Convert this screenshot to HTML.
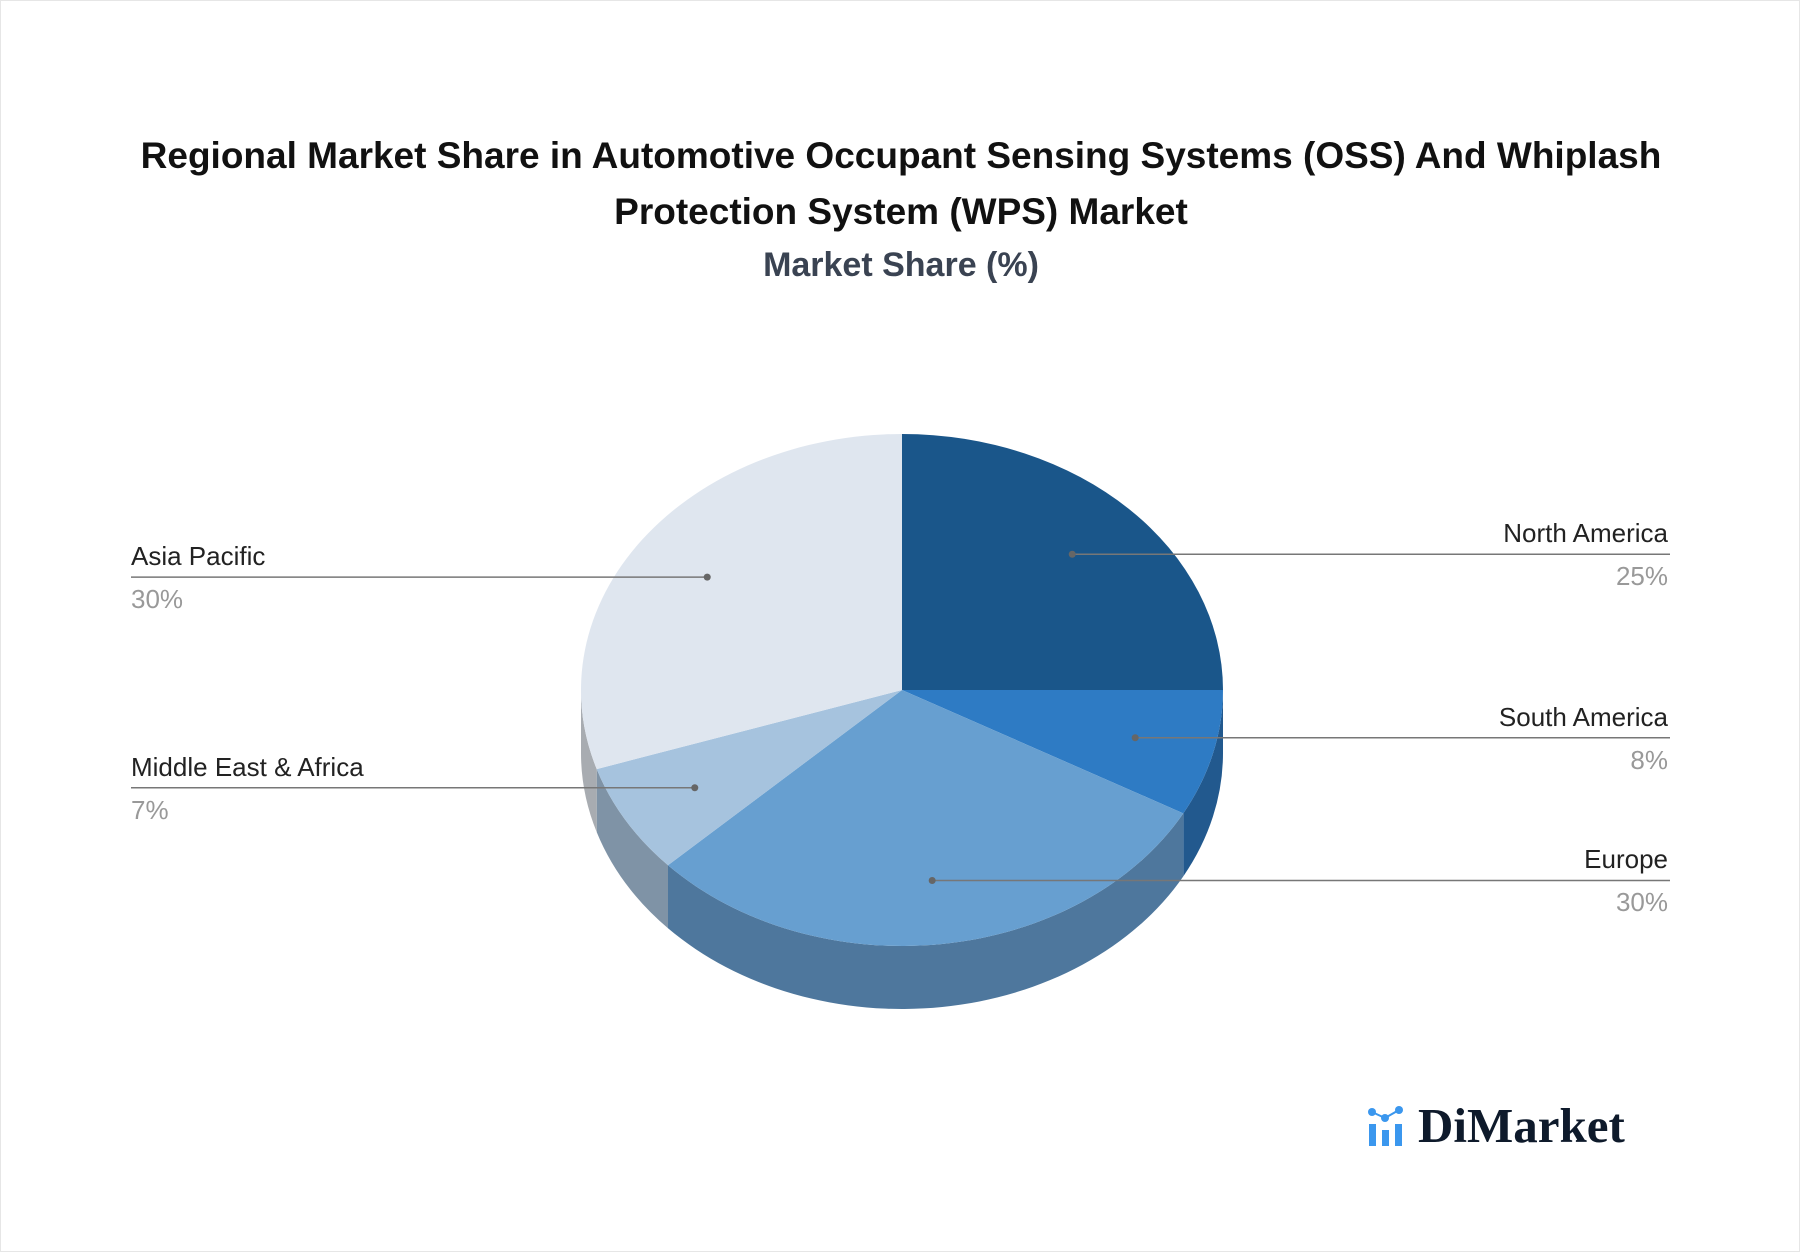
<!DOCTYPE html>
<html><head><meta charset="utf-8"><style>
html,body{margin:0;padding:0;background:#fff}
#wrap{position:relative;width:1800px;height:1252px;overflow:hidden;font-family:"Liberation Sans",sans-serif;box-sizing:border-box;border:1px solid #e6e6e6}
.t{position:absolute;left:0;width:1800px;text-align:center;font-weight:bold;color:#111}
.lab{position:absolute;font-size:26px;line-height:30px;color:#222;white-space:nowrap}
.pct{position:absolute;font-size:26px;line-height:30px;color:#999;white-space:nowrap}
</style></head><body>
<div id="wrap">
<div class="t" style="top:127px;font-size:37px;line-height:56px">Regional Market Share in Automotive Occupant Sensing Systems (OSS) And Whiplash<br>Protection System (WPS) Market</div>
<div class="t" style="top:245px;font-size:34px;color:#3a4352">Market Share (%)</div>
<svg id="pie" width="1800" height="1252" style="position:absolute;left:0;top:0"></svg>
<div style="position:absolute;left:1366px;top:1100px;height:50px">
<svg width="40" height="45" style="position:absolute;left:0;top:3px">
<rect x="2" y="20" width="7" height="22" fill="#3b97ee"/><rect x="15" y="26" width="7" height="16" fill="#3b97ee"/><rect x="28" y="20" width="7" height="22" fill="#3b97ee"/>
<polyline points="5,8 18,14 32,6" stroke="#3b97ee" stroke-width="2" fill="none"/>
<circle cx="5" cy="8" r="4" fill="#3b97ee"/><circle cx="18" cy="14" r="4" fill="#3b97ee"/><circle cx="32" cy="6" r="4" fill="#3b97ee"/></svg>
<div style="position:absolute;left:51px;top:-4px;font-family:'Liberation Serif',serif;font-weight:bold;font-size:49px;color:#0e1a2b">DiMarket</div>
</div>
</div>
<script>
const categories=["North America","South America","Europe","Middle East & Africa","Asia Pacific"];
const values=[25,8,30,7,30];
const pctLabels=["25%","8%","30%","7%","30%"];
const topColors=["#1a568a","#2e7bc4","#679fd0","#a6c3de","#dfe6ef"];
const sideColors=["#15456f","#22598e","#4e779d","#7f93a6","#a8acb1"];
const cx=901,cy=689,rx=321,ry=256,depth=63;
const svg=document.getElementById('pie');
const NS='http://www.w3.org/2000/svg';
const total=values.reduce((a,b)=>a+b,0);
function pt(a,dy){return [cx+rx*Math.cos(a),cy+ry*Math.sin(a)+(dy||0)];}
let start=-Math.PI/2;
const slices=[];
values.forEach((v,i)=>{const a1=start,a2=start+v/total*2*Math.PI;slices.push([a1,a2]);start=a2;});
slices.forEach(([a1,a2],i)=>{
  const segs=[];
  const s=Math.max(a1,0),e=Math.min(a2,Math.PI);
  if(s<e)segs.push([s,e]);
  const s2=Math.max(a1,2*Math.PI),e2=Math.min(a2,3*Math.PI);
  if(s2<e2)segs.push([s2,e2]);
  segs.forEach(([s,e])=>{
    const p1=pt(s),p2=pt(e),p3=pt(e,depth),p4=pt(s,depth);
    const p=document.createElementNS(NS,'path');
    p.setAttribute('d',`M${p1}A${rx},${ry} 0 0 1 ${p2}L${p3}A${rx},${ry} 0 0 0 ${p4}Z`);
    p.setAttribute('fill',sideColors[i]);
    
    
    svg.appendChild(p);
  });
});
slices.forEach(([a1,a2],i)=>{
  const p1=pt(a1),p2=pt(a2);
  const large=(a2-a1)>Math.PI?1:0;
  const p=document.createElementNS(NS,'path');
  p.setAttribute('d',`M${cx},${cy}L${p1}A${rx},${ry} 0 ${large} 1 ${p2}Z`);
  p.setAttribute('fill',topColors[i]);
  
  
  svg.appendChild(p);
});
const wrap=document.getElementById('wrap');
slices.forEach(([a1,a2],i)=>{
  const m=(a1+a2)/2;
  const dot=[cx+rx*0.75*Math.cos(m),cy+ry*0.75*Math.sin(m)];
  const right=Math.cos(m)>0;
  const ly=dot[1];
  const xEnd=right?1669:130;
  const l=document.createElementNS(NS,'line');
  l.setAttribute('x1',dot[0]);l.setAttribute('y1',ly);l.setAttribute('x2',xEnd);l.setAttribute('y2',ly);
  l.setAttribute('stroke','#777');l.setAttribute('stroke-width','1.5');
  
  
  svg.appendChild(l);
  const c=document.createElementNS(NS,'circle');
  c.setAttribute('cx',dot[0]);c.setAttribute('cy',ly);c.setAttribute('r','3.5');c.setAttribute('fill','#666');
  
  
  svg.appendChild(c);
  const lab=document.createElement('div');
  lab.className='lab';lab.textContent=categories[i];
  
  
  const pc=document.createElement('div');
  pc.className='pct';pc.textContent=pctLabels[i];
  
  
  if(right){lab.style.right=(1800-1669)+'px';pc.style.right=(1800-1669)+'px';}
  else{lab.style.left='130px';pc.style.left='130px';}
  lab.style.top=(ly-36)+'px';pc.style.top=(ly+7)+'px';
  wrap.appendChild(lab);wrap.appendChild(pc);
});
</script>
</body></html>
